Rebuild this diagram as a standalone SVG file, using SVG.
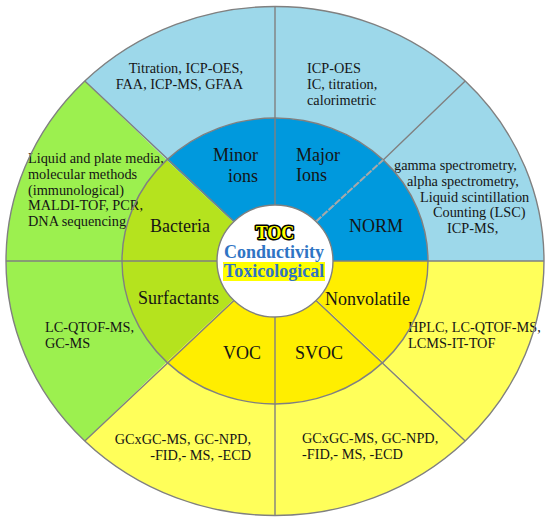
<svg xmlns="http://www.w3.org/2000/svg" width="550" height="523" viewBox="0 0 550 523">
<style>
.ob{fill:#9dd8ea}
.og{fill:#9cf04f}
.oy{fill:#ffff5a}
.ib{fill:#0099dd}
.il{fill:#b5e31e}
.iy{fill:#ffee00}
.t{font-family:"Liberation Serif","Times New Roman",serif;font-size:14.3px;fill:#151515}
.l{font-family:"Liberation Serif","Times New Roman",serif;font-size:18px;fill:#151515}
.c{font-family:"Liberation Serif","Times New Roman",serif;font-size:18px;font-weight:bold;fill:#2f74c4;text-anchor:middle}
.ln{stroke:#808080;stroke-width:1.4;fill:none}
</style>
<rect width="550" height="523" fill="#ffffff"/>
<g id="inner-ring">
<g id="minor-ions">
<path class="ib" d="M275,261 L275,118 A153,143 0 0 0 166.8,159.9 Z"/>
<text class="l" x="258" y="160.5" text-anchor="end">Minor</text>
<text class="l" x="258" y="181.5" text-anchor="end">ions</text>
</g>
<g id="major-ions">
<path class="ib" d="M275,261 L275,118 A153,143 0 0 1 383.2,159.9 Z"/>
<text class="l" x="296" y="161">Major</text>
<text class="l" x="296" y="181">Ions</text>
</g>
<g id="norm">
<path class="ib" d="M275,261 L383.2,159.9 A153,143 0 0 1 428,261 Z"/>
<text class="l" x="349" y="232">NORM</text>
</g>
<g id="nonvolatile">
<path class="iy" d="M275,261 L428,261 A153,143 0 0 1 383.2,362.1 Z"/>
<text class="l" x="325" y="305">Nonvolatile</text>
</g>
<g id="svoc">
<path class="iy" d="M275,261 L383.2,362.1 A153,143 0 0 1 275,404 Z"/>
<text class="l" x="295" y="359">SVOC</text>
</g>
<g id="voc">
<path class="iy" d="M275,261 L275,404 A153,143 0 0 1 166.8,362.1 Z"/>
<text class="l" x="223" y="359">VOC</text>
</g>
<g id="surfactants">
<path class="il" d="M275,261 L166.8,362.1 A153,143 0 0 1 122,261 Z"/>
<text class="l" x="138" y="304">Surfactants</text>
</g>
<g id="bacteria">
<path class="il" d="M275,261 L122,261 A153,143 0 0 1 166.8,159.9 Z"/>
<text class="l" x="150" y="232">Bacteria</text>
</g>
</g>
<g id="outer-ring">
<g id="outer-minor">
<path class="ob" d="M275,118 L275,6.5 A269,254.5 0 0 0 84.8,81 L166.8,159.9 A153,143 0 0 1 275,118 Z"/>
<text class="t" x="243" y="73" text-anchor="end">Titration, ICP-OES,</text>
<text class="t" x="243" y="89" text-anchor="end">FAA, ICP-MS, GFAA</text>
</g>
<g id="outer-major">
<path class="ob" d="M275,118 L275,6.5 A269,254.5 0 0 1 465.2,81 L383.2,159.9 A153,143 0 0 0 275,118 Z"/>
<text class="t" x="307" y="73">ICP-OES</text>
<text class="t" x="307" y="89">IC, titration,</text>
<text class="t" x="307" y="105">calorimetric</text>
</g>
<g id="outer-norm">
<path class="ob" d="M383.2,159.9 L465.2,81 A269,254.5 0 0 1 544,261 L428,261 A153,143 0 0 0 383.2,159.9 Z"/>
<text class="t" x="394" y="170">gamma spectrometry,</text>
<text class="t" x="407" y="186">alpha spectrometry,</text>
<text class="t" x="420" y="202">Liquid scintillation</text>
<text class="t" x="433" y="217">Counting (LSC)</text>
<text class="t" x="447" y="233">ICP-MS,</text>
</g>
<g id="outer-nonvolatile">
<path class="oy" d="M428,261 L544,261 A269,254.5 0 0 1 465.2,441 L383.2,362.1 A153,143 0 0 0 428,261 Z"/>
<text class="t" x="408" y="332">HPLC, LC-QTOF-MS,</text>
<text class="t" x="408" y="348">LCMS-IT-TOF</text>
</g>
<g id="outer-svoc">
<path class="oy" d="M383.2,362.1 L465.2,441 A269,254.5 0 0 1 275,515.5 L275,404 A153,143 0 0 0 383.2,362.1 Z"/>
<text class="t" x="302" y="443">GCxGC-MS, GC-NPD,</text>
<text class="t" x="302" y="459">-FID,- MS, -ECD</text>
</g>
<g id="outer-voc">
<path class="oy" d="M275,404 L275,515.5 A269,254.5 0 0 1 84.8,441 L166.8,362.1 A153,143 0 0 0 275,404 Z"/>
<text class="t" x="251" y="444" text-anchor="end">GCxGC-MS, GC-NPD,</text>
<text class="t" x="251" y="460" text-anchor="end">-FID,- MS, -ECD</text>
</g>
<g id="outer-surfactants">
<path class="og" d="M166.8,362.1 L84.8,441 A269,254.5 0 0 1 6,261 L122,261 A153,143 0 0 0 166.8,362.1 Z"/>
<text class="t" x="45" y="332">LC-QTOF-MS,</text>
<text class="t" x="45" y="348">GC-MS</text>
</g>
<g id="outer-bacteria">
<path class="og" d="M122,261 L6,261 A269,254.5 0 0 1 84.8,81 L166.8,159.9 A153,143 0 0 0 122,261 Z"/>
<text class="t" x="28" y="163">Liquid and plate media,</text>
<text class="t" x="28" y="179">molecular methods</text>
<text class="t" x="28" y="195">(immunological)</text>
<text class="t" x="28" y="210">MALDI-TOF, PCR,</text>
<text class="t" x="28" y="226">DNA sequencing</text>
</g>
</g>
<g id="connectors">
<ellipse class="ln" cx="275" cy="261" rx="269" ry="254.5"/>
<ellipse class="ln" cx="275" cy="261" rx="153" ry="143"/>
<path class="ln" d="M275,205 L275,6.5 M275,317 L275,515.5 M217,261 L6,261 M333,261 L544,261 M234,221.4 L84.8,81 M316,300.6 L465.2,441 M234,300.6 L84.8,441 M383.2,159.9 L465.2,81"/>
<path d="M316,221.4 L383.2,159.9" stroke="#a8a8a8" stroke-width="2" stroke-dasharray="7 1.5" fill="none"/>
</g>
<g id="center">
<ellipse cx="275" cy="261" rx="58" ry="56" fill="#ffffff" stroke="#808080" stroke-width="1.4"/>
<text x="275" y="239" text-anchor="middle" font-family="Liberation Serif,serif" font-weight="bold" font-size="18" fill="#ffff00" stroke="#000000" stroke-width="3" stroke-linejoin="round" paint-order="stroke">TOC</text>
<text class="c" x="274" y="258">Conductivity</text>
<rect x="223" y="262" width="102" height="19" fill="#ffff00"/>
<text class="c" x="274" y="277">Toxicological</text>
</g>
</svg>
